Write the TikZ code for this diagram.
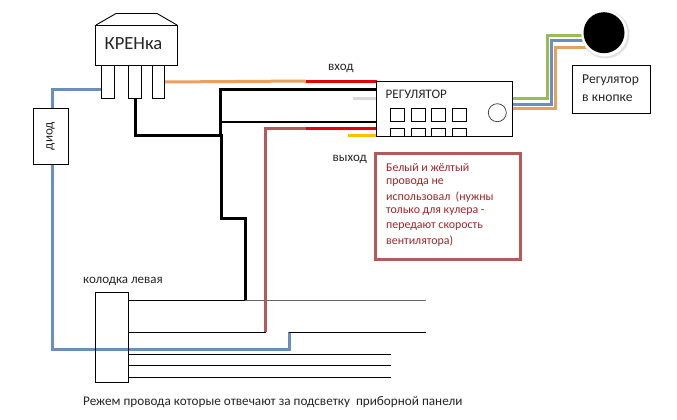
\documentclass[tikz,border=0pt]{standalone}
\usepackage{fontspec}
\setmainfont{Carlito}
\definecolor{wblue}{HTML}{6A8FBF}
\definecolor{worange}{HTML}{EB9F5E}
\definecolor{wgreen}{HTML}{9BBB59}
\definecolor{wred}{HTML}{E80000}
\definecolor{wrust}{HTML}{B55A5A}
\definecolor{wyellow}{HTML}{FFC000}
\definecolor{wtext}{HTML}{A02525}
\tikzset{
 box/.style={draw=black,line width=0.9pt,fill=white,inner sep=0pt},
 lbl/.style={anchor=west,inner sep=0pt,font=\fontsize{13}{15}\selectfont,text=black!85},
 note/.style={anchor=west,inner sep=0pt,font=\fontsize{11.9}{14}\selectfont,text=wtext},
 thinw/.style={draw=black,line width=0.9pt},
 fat/.style={line width=3pt},
 mid/.style={line width=2.2pt},
 sq/.style={draw=black,line width=0.8pt,fill=white}
}
\begin{document}
\begin{tikzpicture}[x=1pt,y=-1pt]
\useasboundingbox (0,0) rectangle (677,420);
\fill[white] (0,0) rectangle (677,420);
% coordinates
\coordinate (p1) at (101.5,89.5);
\coordinate (p2) at (135,98.5);
\coordinate (p3) at (165,82);
% wires
\draw[wblue,fat,line join=miter] (p1) -- (52,89.5) -- (52,349) -- (289,349) -- (289,332);
\draw[thinw] (128.7,300) -- (245,300);
\draw[black!60,line width=0.9pt] (245,300) -- (425.7,300);
\draw[thinw] (128.7,332) -- (265.7,332);
\draw[thinw] (289,332) -- (425.7,332);
\draw[thinw] (128.7,354.3) -- (391,354.3);
\draw[thinw] (128.7,365.3) -- (391,365.3);
\draw[thinw] (128.7,377.3) -- (391,377.3);
\draw[worange,fat] (p3) -- (306,81);
\draw[wred,fat] (306,81.7) -- (376.5,81.7);
\draw[black,fat] (376.5,89.5) -- (220.5,89.5) -- (220.5,135.5);
\draw[black,mid] (220.5,122) -- (376.5,122);
\draw[black,fat] (p2) -- (135,135.5) -- (221.5,135.5) -- (221.5,218) -- (245,218) -- (245,300);
\draw[wrust,fat] (265.7,332) -- (265.7,128.7) -- (306,128.7);
\draw[wred,fat] (306,128.7) -- (376.5,128.7);
\draw[black!15,fat] (353,98.5) -- (376.5,98.5);
\draw[wyellow,fat] (348,135) -- (376.5,135);
% pins
\node[box,minimum width=13pt,minimum height=33.5pt] (pin1) at (108,81.75) {};
\node[box,minimum width=13pt,minimum height=33.5pt] (pin2) at (135,81.75) {};
\node[box,minimum width=12pt,minimum height=33.5pt] (pin3) at (158.5,81.75) {};
% krenka
\draw[box] (96,25) -- (116,13.5) -- (157,13.5) -- (177,25);
\node[box,minimum width=81.3pt,minimum height=40pt] (kren) at (136.35,45) {};
\node[anchor=west,inner sep=0pt,font=\fontsize{18.6}{20}\selectfont,text=black!85] (krent) at (104.5,43.5) {КРЕНка};
% diode
\node[box,minimum width=35pt,minimum height=56pt] (diode) at (51,136) {};
\node[inner sep=0pt,rotate=90,font=\fontsize{13}{15}\selectfont,text=black!85] (diodet) at (50.5,136) {диод};
% kolodka
\node[box,fill=none,minimum width=33.4pt,minimum height=90pt] (kol) at (112,337.3) {};
\node[lbl] (kolt) at (83,281.5) {колодка левая};
\node[lbl,font=\fontsize{13.2}{15}\selectfont] (bot) at (83,402) {Режем провода которые отвечают за подсветку\ \ приборной панели};
% regulator
\draw[wgreen,fat] (512,98.5) -- (547,98.5) -- (547,35.5) -- (585,35.5);
\draw[wblue,fat] (512,104) -- (551.7,104) -- (551.7,41) -- (585,41);
\draw[worange,fat] (512,108.5) -- (555.5,108.5) -- (555.5,47.3) -- (590,47.3);
\node[box,minimum width=135.8pt,minimum height=55pt] (reg) at (444.4,108.8) {};
\node[lbl] (regt) at (385.5,94) {РЕГУЛЯТОР};
\foreach \x/\n in {390.3/a,411/b,431.3/c,452.3/d}{
  \draw[sq] (\x,108.3) rectangle ++(14,13);
  \draw[sq] (\x,136.3) -- (\x,128.3) -- ++(14,0) -- ++(0,8);
}
\draw[black!80,line width=0.7pt] (497.3,112.7) circle (9);
% knob
\fill[black!12] (605.5,34.5) circle (24);
\fill[white] (604.5,33.5) circle (23);
\fill[black] (604,32.7) circle (20.5);
\node[box,minimum width=78pt,minimum height=47.6pt] (knobbox) at (611.3,89.5) {};
\node[lbl,font=\fontsize{13.6}{15}\selectfont] (k1) at (582,80) {Регулятор};
\node[lbl,font=\fontsize{13.6}{15}\selectfont] (k2) at (582,98) {в кнопке};
% labels
\node[lbl] (vh) at (328,68.5) {вход};
\node[lbl] (vyh) at (332.5,159.5) {выход};
% note
\node[draw=wrust,line width=3pt,fill=none,minimum width=144.3pt,minimum height=106pt,inner sep=0pt] (note) at (447.85,206.3) {};
\node[note] (n1) at (386,167.5) {Белый и жёлтый};
\node[note] (n2) at (386,182.5) {провода не};
\node[note] (n3) at (386,197.5) {использовал\ \ (нужны};
\node[note] (n4) at (386,212) {только для кулера -};
\node[note] (n5) at (386,227) {передают скорость};
\node[note] (n6) at (386,241) {вентилятора)};
\end{tikzpicture}
\end{document}
